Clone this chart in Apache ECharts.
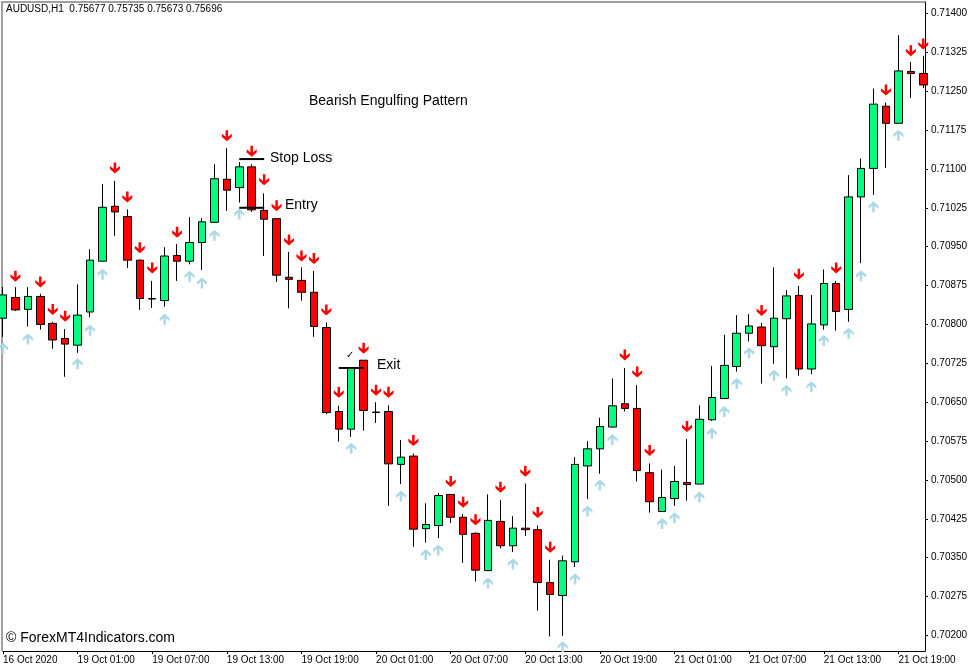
<!DOCTYPE html>
<html lang="en" style="height:100%">
<head>
    <meta charset="UTF-8">
    <title>AUDUSD,H1</title>
    <script src="https://cdn.jsdelivr.net/npm/echarts@6/dist/echarts.min.js"></script>
</head>
<body style="height: 100%; margin: 0; background: #fff">
<div id="container" style="width: 977px; height: 670px"></div>
<script type="text/javascript">

    // prices, one entry per H1 bar
    var opens = [0.70812, 0.70852, 0.70829, 0.70854, 0.70802, 0.70773, 0.70760, 0.70824, 0.70922, 0.71028,
        0.71008, 0.70924, 0.70850, 0.70846, 0.70933, 0.70922, 0.70958, 0.70997, 0.71080, 0.71064,
        0.71104, 0.71020, 0.71004, 0.70891, 0.70885, 0.70862, 0.70794, 0.70632, 0.70598, 0.70731,
        0.70631, 0.70632, 0.70530, 0.70546, 0.70406, 0.70412, 0.70472, 0.70428, 0.70397, 0.70325,
        0.70420, 0.70373, 0.70407, 0.70404, 0.70302, 0.70277, 0.70342, 0.70527, 0.70560, 0.70602,
        0.70647, 0.70638, 0.70514, 0.70439, 0.70464, 0.70495, 0.70492, 0.70616, 0.70657, 0.70719,
        0.70783, 0.70795, 0.70757, 0.70811, 0.70856, 0.70714, 0.70799, 0.70879, 0.70829, 0.71046,
        0.71101, 0.71221, 0.71188, 0.71288, 0.71284];
    var closes = [0.70857, 0.70828, 0.70854, 0.70800, 0.70770, 0.70762, 0.70818, 0.70924, 0.71026, 0.71017,
        0.70924, 0.70850, 0.70849, 0.70932, 0.70922, 0.70958, 0.70998, 0.71081, 0.71059, 0.71104,
        0.71021, 0.71003, 0.70895, 0.70887, 0.70862, 0.70796, 0.70630, 0.70598, 0.70716, 0.70634,
        0.70630, 0.70531, 0.70544, 0.70405, 0.70414, 0.70470, 0.70428, 0.70395, 0.70326, 0.70422,
        0.70373, 0.70407, 0.70404, 0.70302, 0.70279, 0.70344, 0.70530, 0.70560, 0.70603, 0.70643,
        0.70638, 0.70518, 0.70458, 0.70466, 0.70497, 0.70491, 0.70617, 0.70659, 0.70721, 0.70783,
        0.70797, 0.70759, 0.70812, 0.70855, 0.70714, 0.70801, 0.70879, 0.70825, 0.71046, 0.71101,
        0.71225, 0.71188, 0.71289, 0.71284, 0.71262];
    var lows = [0.70776, 0.70826, 0.70796, 0.70790, 0.70753, 0.70699, 0.70745, 0.70814, 0.70922, 0.70971,
        0.70909, 0.70828, 0.70832, 0.70834, 0.70884, 0.70916, 0.70905, 0.70997, 0.71019, 0.71035,
        0.71017, 0.70932, 0.70882, 0.70831, 0.70846, 0.70776, 0.70627, 0.70574, 0.70583, 0.70595,
        0.70610, 0.70450, 0.70492, 0.70371, 0.70379, 0.70388, 0.70417, 0.70340, 0.70304, 0.70325,
        0.70368, 0.70361, 0.70392, 0.70248, 0.70198, 0.70199, 0.70332, 0.70463, 0.70512, 0.70601,
        0.70632, 0.70497, 0.70437, 0.70439, 0.70450, 0.70460, 0.70492, 0.70614, 0.70656, 0.70709,
        0.70767, 0.70686, 0.70724, 0.70696, 0.70701, 0.70704, 0.70790, 0.70788, 0.70805, 0.70918,
        0.71050, 0.71102, 0.71188, 0.71237, 0.71256];
    var highs = [0.70872, 0.70872, 0.70872, 0.70859, 0.70805, 0.70791, 0.70877, 0.70945, 0.71071, 0.71077,
        0.71022, 0.70925, 0.70884, 0.70949, 0.70955, 0.71007, 0.71005, 0.71109, 0.71140, 0.71113,
        0.71109, 0.71053, 0.71004, 0.70940, 0.70910, 0.70903, 0.70804, 0.70643, 0.70716, 0.70731,
        0.70650, 0.70644, 0.70577, 0.70551, 0.70455, 0.70475, 0.70473, 0.70434, 0.70399, 0.70472,
        0.70461, 0.70430, 0.70493, 0.70412, 0.70346, 0.70354, 0.70544, 0.70575, 0.70620, 0.70696,
        0.70716, 0.70683, 0.70532, 0.70520, 0.70527, 0.70579, 0.70644, 0.70720, 0.70780, 0.70818,
        0.70820, 0.70803, 0.70910, 0.70866, 0.70874, 0.70857, 0.70906, 0.70884, 0.71088, 0.71120,
        0.71255, 0.71228, 0.71358, 0.71306, 0.71318];
    // indicator arrow price under/over each bar, up on rising bars, down on falling bars
    var arrowPrices = [0.70754, 0.70893, 0.70772, 0.70882, 0.70829, 0.70816, 0.70724, 0.70789, 0.70897, 0.71102,
        0.71046, 0.70948, 0.70909, 0.70810, 0.70978, 0.70893, 0.70880, 0.70972, 0.71164, 0.71013,
        0.71134, 0.71079, 0.71029, 0.70963, 0.70932, 0.70927, 0.70828, 0.70669, 0.70561, 0.70754,
        0.70673, 0.70669, 0.70469, 0.70576, 0.70356, 0.70365, 0.70497, 0.70457, 0.70423, 0.70301,
        0.70486, 0.70338, 0.70517, 0.70437, 0.70370, 0.70178, 0.70309, 0.70440, 0.70490, 0.70578,
        0.70741, 0.70708, 0.70557, 0.70416, 0.70427, 0.70603, 0.70467, 0.70590, 0.70632, 0.70686,
        0.70745, 0.70827, 0.70702, 0.70673, 0.70897, 0.70680, 0.70769, 0.70909, 0.70783, 0.70894,
        0.71027, 0.71252, 0.71165, 0.71328, 0.71341];

    var stopLossLine = [[19, 0.71119], [21, 0.71119]];
    var entryLine = [[19, 0.71025], [21, 0.71025]];
    var exitLine = [[27, 0.70716], [29, 0.70716]];

    var priceTicks = [0.70200, 0.70275, 0.70350, 0.70425, 0.70500, 0.70575, 0.70650, 0.70725, 0.70800, 0.70875,
        0.70950, 0.71025, 0.71100, 0.71175, 0.71250, 0.71325, 0.71400];
    var timeTicks = [0, 6, 12, 18, 24, 30, 36, 42, 48, 54, 60, 66, 72];
    var timeLabels = ['16 Oct 2020', '19 Oct 01:00', '19 Oct 07:00', '19 Oct 13:00', '19 Oct 19:00',
        '20 Oct 01:00', '20 Oct 07:00', '20 Oct 13:00', '20 Oct 19:00',
        '21 Oct 01:00', '21 Oct 07:00', '21 Oct 13:00', '21 Oct 19:00'];

    var arrowDown = 'path://M4 0H6V6L9 3.2V6L5 10L1 6V3.2L4 6Z';
    var arrowUp = 'path://M4 10H6V4L9 6.8V4L5 0L1 4V6.8L4 4Z';
    var axisFont = 'Liberation Sans';

    var candles = [], upArrows = [], downArrows = [];
    for (var i = 0; i < opens.length; i++) {
        candles.push([i, opens[i], closes[i], lows[i], highs[i]]);
        if (closes[i] > opens[i]) {
            upArrows.push([i, arrowPrices[i]]);
        } else {
            downArrows.push([i, arrowPrices[i]]);
        }
    }

    function levelLine(name, points) {
        return {
            name: name,
            type: 'line',
            data: points,
            showSymbol: false,
            silent: true,
            z: 5,
            animation: false,
            lineStyle: {color: '#000', width: 2}
        };
    }

    function note(text, left, top, size, font) {
        return {
            type: 'text',
            left: left,
            top: top,
            silent: true,
            z: 10,
            style: {text: text, fill: '#000', font: size + 'px "' + (font || 'Liberation Sans') + '"'}
        };
    }

    var dom = document.getElementById('container');
    var myChart = echarts.init(dom, null, {renderer: 'canvas'});

    var option = {
        backgroundColor: '#fff',
        animation: false,
        grid: {left: 2.7, right: 52, top: 2, bottom: 19},
        xAxis: {
            type: 'value',
            min: 0,
            max: 74.14,
            splitLine: {show: false},
            axisLine: {show: true, onZero: false, lineStyle: {color: '#000', width: 1}},
            axisTick: {show: true, length: 3, customValues: timeTicks, lineStyle: {color: '#000'}},
            axisLabel: {
                customValues: timeTicks,
                align: 'left',
                margin: 4,
                color: '#000',
                fontFamily: axisFont,
                fontSize: 10,
                formatter: function (val) {
                    return timeLabels[timeTicks.indexOf(val)];
                }
            }
        },
        yAxis: {
            type: 'value',
            position: 'right',
            min: 0.70170,
            max: 0.71422,
            splitLine: {show: false},
            axisLine: {show: true, onZero: false, lineStyle: {color: '#000', width: 1}},
            axisTick: {show: true, length: 3, customValues: priceTicks, lineStyle: {color: '#000'}},
            axisLabel: {
                customValues: priceTicks,
                margin: 6,
                color: '#000',
                fontFamily: axisFont,
                fontSize: 10,
                formatter: function (val) {
                    return val.toFixed(5);
                }
            }
        },
        series: [
            {
                name: 'AUDUSD',
                type: 'candlestick',
                data: candles,
                barWidth: 8,
                itemStyle: {
                    color: '#00FF7F',
                    color0: '#FF0000',
                    borderColor: '#000',
                    borderColor0: '#000',
                    borderColorDoji: '#000',
                    borderWidth: 1
                }
            },
            {
                name: 'up',
                type: 'scatter',
                data: upArrows,
                symbol: arrowUp,
                symbolSize: [10, 11],
                itemStyle: {color: '#ADD8E6', opacity: 1}
            },
            {
                name: 'down',
                type: 'scatter',
                data: downArrows,
                symbol: arrowDown,
                symbolSize: [10, 11],
                itemStyle: {color: '#FF0000', opacity: 1}
            },
            levelLine('Stop Loss', stopLossLine),
            levelLine('Entry', entryLine),
            levelLine('Exit', exitLine)
        ],
        graphic: [
            // window frame, top and left edge
            {type: 'rect', left: 1, top: 1, silent: true, shape: {width: 924, height: 2}, style: {fill: '#A0A0A0'}},
            {type: 'rect', left: 1, top: 1, silent: true, shape: {width: 2, height: 650}, style: {fill: '#A0A0A0'}},
            note('AUDUSD,H1  0.75677 0.75735 0.75673 0.75696', 6, 4, 10),
            note('Bearish Engulfing Pattern', 309, 94, 14),
            note('Stop Loss', 270, 151, 14),
            note('Entry', 285, 198, 14),
            note('Exit', 377, 358, 14),
            note('\u2713', 346, 350, 10, 'DejaVu Sans'),
            note('\u00A9 ForexMT4Indicators.com', 6, 631, 14)
        ]
    };

    myChart.setOption(option);

</script>
</body>
</html>
